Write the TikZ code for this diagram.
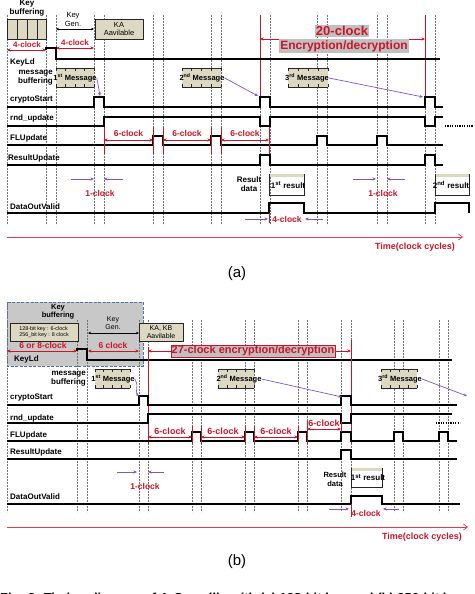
\documentclass[tikz,border=0pt]{standalone}
\usepackage{fontspec}
\setmainfont{Liberation Sans}
\usetikzlibrary{arrows.meta}
\definecolor{tred}{RGB}{204,20,40}
\definecolor{tbeige}{RGB}{221,216,194}
\definecolor{tpurple}{RGB}{125,85,205}
\definecolor{thgray}{RGB}{192,192,192}
\definecolor{tboxgray}{RGB}{200,200,200}
\definecolor{tdblue}{RGB}{80,115,165}
\definecolor{tpink}{RGB}{222,60,80}
\newcommand\mymsgbox[4]{%
  \fill[tbeige] (#1,#2) rectangle (#3,#4);
  \draw[black!85,line width=0.6pt] (#1,#2) -- (#3,#2) (#1,#4) -- (#3,#4);
  \foreach \k in {0,1,2,3,4} {
    \draw[black!85,line width=0.6pt] ({#1+\k*(#3-#1)/4},#2) -- ++(0,3) ({#1+\k*(#3-#1)/4},#4) -- ++(0,-3);
  }%
}
\newcommand\myresbox[4]{%
  \fill[tbeige] (#1,#2) rectangle (#3,{#2+3});
  \draw[black!85,line width=0.6pt] (#1,#2) -- (#1,#4) -- (#3,#4) -- (#3,#2);
}
\begin{document}
\begin{tikzpicture}[x=1pt,y=-1pt,
  clk/.style={black!55, line width=0.45pt, dash pattern=on 2pt off 1pt},
  wave/.style={black, line width=1.1pt, line join=miter},
  sig/.style={font=\bfseries\fontsize{8}{9}\selectfont, inner sep=0pt, anchor=west},
  rtxt/.style={text=tred, font=\bfseries\fontsize{8.5}{9}\selectfont, inner sep=0.5pt},
  dimr/.style={tred, line width=0.9pt, {Stealth[length=3.5pt,width=3pt]}-{Stealth[length=3.5pt,width=3pt]}},
  dimk/.style={black, line width=0.6pt, {Stealth[length=3pt,width=2.6pt]}-{Stealth[length=3pt,width=2.6pt]}},
  redv/.style={tred, line width=0.8pt},
  parr/.style={tpurple, line width=0.7pt, -{Stealth[length=3.5pt,width=3pt]}},
  kbox/.style={fill=tbeige, draw=black!85, line width=0.6pt},
  smalltxt/.style={font=\fontsize{7.5}{8.5}\selectfont, inner sep=0pt, align=center},
  msgtxt/.style={font=\bfseries\fontsize{7.5}{8.5}\selectfont, inner sep=0pt},
  timeaxis/.style={tpink, line width=0.7pt, -{Straight Barb[length=4pt,width=6pt]}},
  timetxt/.style={text=tred, font=\bfseries\fontsize{9}{10}\selectfont, inner sep=0pt},
]
\useasboundingbox (0,0) rectangle (474,594);

% ================= (a) =================
\foreach \x in {7,46,56,94,104,153,163,211,221,260,270,317,327,377,387,425,435}
  \draw[clk] (\x,15) -- (\x,225);

% header
\node[smalltxt, font=\bfseries\fontsize{8}{9}\selectfont] (kbufA) at (27,8) {Key\\buffering};
\draw[kbox] (7,19) rectangle (46,39);
\foreach \x in {17,27,37} \draw[black!85,line width=0.6pt] (\x,19) -- (\x,39);
\node[smalltxt] (kgenA) at (73,19.5) {Key\\Gen.};
\coordinate (kgA1) at (56,29); \coordinate (kgA2) at (94,29);
\draw[dimk] (kgA1) -- (kgA2);
\node[kbox, smalltxt, minimum width=48pt, minimum height=20pt] (kaA) at (119,29) {KA\\Aavilable};

\coordinate (fcA1) at (7,50); \coordinate (fcA2) at (46,50);
\draw[dimr] (fcA1) -- (fcA2);
\node[rtxt, font=\bfseries\fontsize{8}{9}\selectfont] (fcAt) at (27,45) {4-clock};
\coordinate (fcB1) at (56,48); \coordinate (fcB2) at (94,48);
\draw[dimr] (fcB1) -- (fcB2);
\node[rtxt, font=\bfseries\fontsize{8}{9}\selectfont] (fcBt) at (75,43) {4-clock};

% 20-clock
\draw[redv] (260,15) -- (260,97);
\draw[redv] (425,15) -- (425,97);
\coordinate (encA1) at (260,39); \coordinate (encA2) at (425,39);
\draw[dimr] (encA1) -- (encA2);
\node[fill=thgray, text=tred, font=\bfseries\fontsize{13}{14}\selectfont, inner sep=1pt] (c20) at (342,31) {20-clock};
\node[fill=thgray, text=tred, font=\bfseries\fontsize{12}{13}\selectfont, inner sep=1pt] (encAt) at (344,46) {Encryption/decryption};

% KeyLd
\draw[wave] (46,50) -- (46,48) -- (56,48) -- (56,59) -- (440,59);
\node[sig] (keyldA) at (10,62) {KeyLd};

% message buffering
\node[sig, anchor=east, align=right] (mbA) at (53,78) {message\\buffering};
\mymsgbox{56}{68}{94}{87}
\node[msgtxt] (m1A) at (75,78) {1\textsuperscript{st} Message};
\mymsgbox{182}{68}{221}{87}
\node[msgtxt] (m2A) at (202,78) {2\textsuperscript{nd} Message};
\mymsgbox{288}{68}{328}{87}
\node[msgtxt] (m3A) at (307,78) {3\textsuperscript{rd} Message};

% cryptoStart
\draw[wave] (7,107) -- (94,107) -- (94,97) -- (104,97) -- (104,107) -- (260,107) -- (260,97) -- (270,97) -- (270,107) -- (425,107) -- (425,97) -- (435,97) -- (435,107) -- (443,107);
\node[sig] (csA) at (10,100) {cryptoStart};
\coordinate (csA1) at (100,96); \coordinate (csA2) at (258,96); \coordinate (csA3) at (423,97);
\draw[parr] (m1A.east) .. controls (98,84) .. (csA1);
\draw[parr] (m2A.east) -- (csA2);
\draw[parr] (m3A.east) -- (csA3);

% rnd_update
\draw[wave] (7,126) -- (104,126) -- (104,117) -- (260,117) -- (260,126) -- (270,126) -- (270,117) -- (425,117) -- (425,126) -- (435,126) -- (435,117) -- (443,117);
\node[sig] (rnA) at (10,118) {rnd\_update};
\draw[line width=1.2pt, dash pattern=on 1.2pt off 1.2pt] (445,126) -- (473,126);

% FLUpdate
\draw[wave] (7,145) -- (153,145) -- (153,136) -- (163,136) -- (163,145) -- (211,145) -- (211,136) -- (221,136) -- (221,145) -- (317,145) -- (317,136) -- (327,136) -- (327,145) -- (377,145) -- (377,136) -- (387,136) -- (387,145) -- (443,145);
\node[sig] (flA) at (10,138) {FLUpdate};
\foreach \x in {104,153,163,211,221,269} \draw[redv] (\x,127) -- (\x,154);
\draw[dimr] (104,140) -- (153,140);
\draw[dimr] (163,140) -- (211,140);
\draw[dimr] (221,140) -- (269,140);
\node[rtxt] (s1A) at (128.5,133.5) {6-clock};
\node[rtxt] (s2A) at (187,133.5) {6-clock};
\node[rtxt] (s3A) at (245,133.5) {6-clock};

% ResultUpdate
\draw[wave] (7,165) -- (260,165) -- (260,155) -- (270,155) -- (270,165) -- (425,165) -- (425,155) -- (435,155) -- (435,165) -- (443,165);
\node[sig] (ruA) at (8,158) {ResultUpdate};

% 1-clock
\draw[parr] (71,179) -- (94,179);
\draw[parr] (123,179) -- (104,179);
\node[rtxt] (oc1A) at (100,193) {1-clock};
\draw[parr] (353,179) -- (376,179);
\draw[parr] (405,179) -- (387,179);
\node[rtxt] (oc2A) at (383,193) {1-clock};

% results
\node[sig, anchor=center, align=center] (rdA) at (249,184) {Result\\data};
\myresbox{269}{174}{304}{195}
\node[msgtxt, font=\bfseries\fontsize{8}{9}\selectfont] (r1A) at (288,185) {1\textsuperscript{st} result};
\myresbox{435}{174}{469}{195}
\node[msgtxt, font=\bfseries\fontsize{8}{9}\selectfont] (r2A) at (451,185) {2\textsuperscript{nd} result};

% DataOutValid
\draw[wave] (7,213) -- (269,213) -- (269,203) -- (304,203) -- (304,213) -- (435,213) -- (435,203) -- (469,203) -- (469,213);
\node[sig] (dvA) at (10,207) {DataOutValid};
\draw[redv] (269,213) -- (269,223);
\draw[parr] (245,219) -- (268,219);
\draw[parr] (323,219) -- (305,219);
\node[rtxt, fill=white, inner sep=0.3pt] (fc4A) at (287,219) {4-clock};

% time axis
\coordinate (taA1) at (7,237); \coordinate (taA2) at (463,237);
\draw[timeaxis] (taA1) -- (taA2);
\node[timetxt] (ttA) at (415,247) {Time(clock cycles)};
\node[font=\fontsize{15}{16}\selectfont, inner sep=0pt] (labA) at (237,274) {(a)};

% ================= (b) =================
\draw[fill=tboxgray, draw=tdblue, line width=0.8pt, dash pattern=on 3pt off 1.5pt] (7,302) rectangle (143,366);
\foreach \x in {77,87,139,148,192,201,245,254,298,307,341,351,394,403,439,448}
  \draw[clk] (\x,320) -- (\x,512);
\draw[clk] (7,302) -- (7,512);

\node[smalltxt, font=\bfseries\fontsize{7.5}{8.5}\selectfont] (kbufB) at (58,311.5) {Key\\buffering};
\node[kbox, font=\fontsize{5.4}{6.6}\selectfont, align=left, minimum width=68pt, minimum height=18pt, inner sep=1pt] (bitB) at (44,332) {128-bit key : 6-clock\\256\_bit key : 8 clock};
\node[smalltxt, font=\fontsize{7}{8}\selectfont] (kgenB) at (113,323.5) {Key\\Gen.};
\draw[dimk] (88,333) -- (139,333);
\node[kbox, smalltxt, font=\fontsize{7}{8}\selectfont, minimum width=44pt, minimum height=18pt] (kaB) at (161,332) {KA, KB\\Aavilable};

\draw[dimr] (7,351) -- (77,351);
\node[rtxt] (f68B) at (43,345.5) {6 or 8-clock};
\draw[dimr] (88,351) -- (139,351);
\node[rtxt] (f6B) at (113,345) {6 clock};

% KeyLd b
\draw[wave] (77,351) -- (77,349) -- (87,349) -- (87,360) -- (452,360);
\node[sig] (keyldB) at (14,359) {KeyLd};

% 27-clock
\draw[redv] (148,347) -- (148,444);
\draw[redv] (351,340) -- (351,444);
\draw[dimr] (148,351) -- (351,351);
\node[fill=thgray, draw=tred, line width=0.7pt, text=tred, font=\bfseries\fontsize{11}{12}\selectfont, inner sep=0.8pt] (encB) at (253,351) {27-clock encryption/decryption};

% message buffering b
\node[sig, anchor=east, align=right] (mbB) at (86,379) {message\\buffering};
\mymsgbox{95}{369}{130}{388}
\node[msgtxt] (m1B) at (113,379) {1\textsuperscript{st} Message};
\mymsgbox{218}{369}{254}{388}
\node[msgtxt] (m2B) at (239,379) {2\textsuperscript{nd} Message};
\mymsgbox{381}{369}{417}{388}
\node[msgtxt] (m3B) at (400,379) {3\textsuperscript{rd} Message};

% cryptoStart b
\draw[wave] (7,405) -- (139,405) -- (139,396) -- (148,396) -- (148,405) -- (341,405) -- (341,396) -- (351,396) -- (351,405) -- (457,405);
\node[sig] (csB) at (10,398) {cryptoStart};
\coordinate (csB1) at (139,396); \coordinate (csB2) at (342,397); \coordinate (csB3) at (467,396);
\draw[parr] (m1B.east) .. controls (140,388) and (134,392) .. (csB1);
\draw[parr] (m2B.east) -- (csB2);
\draw[parr] (m3B.east) -- (csB3);

% rnd_update b
\draw[wave] (7,423) -- (148,423) -- (148,414) -- (341,414) -- (341,423) -- (351,423) -- (351,414) -- (452,414);
\node[sig] (rnB) at (10,418) {rnd\_update};
\draw[line width=1.2pt, dash pattern=on 1.2pt off 1.2pt] (436,423) -- (460,423);

% FLUpdate b
\draw[wave] (7,441) -- (192,441) -- (192,432) -- (201,432) -- (201,441) -- (245,441) -- (245,432) -- (254,432) -- (254,441) -- (298,441) -- (298,432) -- (307,432) -- (307,441) -- (341,441) -- (341,432) -- (351,432) -- (351,441) -- (394,441) -- (394,432) -- (403,432) -- (403,441) -- (439,441) -- (439,432) -- (448,432) -- (448,441) -- (457,441);
\node[sig] (flB) at (10,435) {FLUpdate};
\foreach \x in {192,201,245,254,298} \draw[redv] (\x,426) -- (\x,444);
\draw[redv] (307,421) -- (307,444);
\draw[redv] (341,421) -- (341,432);
\draw[dimr] (148,437) -- (192,437);
\draw[dimr] (201,437) -- (245,437);
\draw[dimr] (254,437) -- (298,437);
\draw[dimr] (307,429) -- (341,429);
\node[rtxt, font=\bfseries\fontsize{9}{10}\selectfont] (s1B) at (170,431) {6-clock};
\node[rtxt, font=\bfseries\fontsize{9}{10}\selectfont] (s2B) at (223,431) {6-clock};
\node[rtxt, font=\bfseries\fontsize{9}{10}\selectfont] (s3B) at (276,431) {6-clock};
\node[rtxt, font=\bfseries\fontsize{9}{10}\selectfont] (s4B) at (324,423) {6-clock};

% ResultUpdate b
\draw[wave] (7,459) -- (341,459) -- (341,450) -- (351,450) -- (351,459) -- (457,459);
\node[sig] (ruB) at (10,452) {ResultUpdate};

% 1-clock b
\draw[parr] (117,472) -- (137,472);
\draw[parr] (164,472) -- (148,472);
\node[rtxt] (ocB) at (145,486) {1-clock};

% result b
\node[sig, anchor=center, align=center, font=\bfseries\fontsize{7.5}{8.5}\selectfont] (rdB) at (335,479.5) {Result\\data};
\myresbox{351}{468}{382}{487}
\node[msgtxt, font=\bfseries\fontsize{8}{9}\selectfont] (r1B) at (368,477.5) {1\textsuperscript{st} result};

% DataOutValid b
\draw[wave] (7,504) -- (351,504) -- (351,496) -- (382,496) -- (382,504) -- (460,504);
\node[sig] (dvB) at (10,497) {DataOutValid};
\draw[redv] (351,504) -- (351,517);
\draw[parr] (329,509) -- (349,509);
\draw[parr] (399,509) -- (383,509);
\node[rtxt] (fc4B) at (366,513) {4-clock};

% time axis b
\coordinate (taB1) at (7,527); \coordinate (taB2) at (468,527);
\draw[timeaxis] (taB1) -- (taB2);
\node[timetxt] (ttB) at (422,537) {Time(clock cycles)};
\node[font=\fontsize{15}{16}\selectfont, inner sep=0pt] (labB) at (237,562) {(b)};

% caption (cut by the page edge, as in the reference)
\node[anchor=base west, font=\bfseries\fontsize{13}{14}\selectfont, inner sep=0pt] (cap) at (0,602) {Fig. 3. Timing diagram of A-Camellia with (a) 128-bit key and (b) 256-bit key};
\end{tikzpicture}
\end{document}
